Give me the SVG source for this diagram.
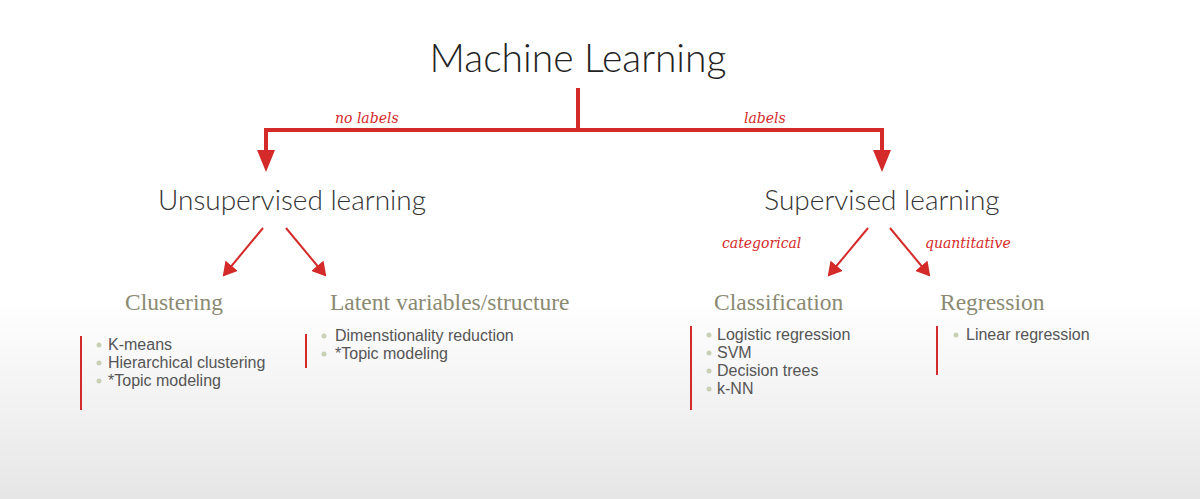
<svg xmlns="http://www.w3.org/2000/svg" width="1200" height="499" viewBox="0 0 1200 499">
<defs>
<linearGradient id="bg" x1="0" y1="0" x2="0" y2="1"><stop offset="0.6" stop-color="#ffffff"/><stop offset="1" stop-color="#e6e6e6"/></linearGradient>
<marker id="ah" markerWidth="8" markerHeight="8" refX="6" refY="4" orient="auto" markerUnits="strokeWidth"><path d="M0,0 L7,4 L0,8 Z" fill="#d42a2a"/></marker>
<style>
.red{stroke:#d42a2a;fill:none}
.hand{font-family:"DejaVu Serif",serif;font-style:italic;fill:#d42a2a;font-size:14px}
.h1{font-family:Lato,"Liberation Sans",sans-serif;font-weight:300;fill:#222;font-size:39px}
.h2{font-family:Lato,"Liberation Sans",sans-serif;font-weight:300;fill:#333;font-size:28px}
.h3{font-family:"Liberation Serif",serif;fill:#8a8a72;font-size:23.5px}
.it{font-family:"Liberation Sans",sans-serif;fill:#555;font-size:16px}
.dot{fill:#c9d1b5}
.bar{stroke:#d42a2a;stroke-width:2}
</style>
</defs>
<rect width="1200" height="499" fill="url(#bg)"/>
<g id="connectors">
<path class="red" stroke-width="4" d="M578,88 V130 M266,130 H882 M266,128 V152 M882,128 V152"/>
<path d="M257,150 L275,150 L266,172 Z M873,150 L891,150 L882,172 Z" fill="#d42a2a"/>
<line class="red" stroke-width="2" x1="263" y1="228" x2="224" y2="275" marker-end="url(#ah)"/>
<line class="red" stroke-width="2" x1="286" y1="228" x2="325" y2="275" marker-end="url(#ah)"/>
<line class="red" stroke-width="2" x1="868" y1="228" x2="829" y2="275" marker-end="url(#ah)"/>
<line class="red" stroke-width="2" x1="890" y1="228" x2="929" y2="275" marker-end="url(#ah)"/>
<text class="hand" x="335" y="123">no labels</text>
<text class="hand" x="744" y="123">labels</text>
<text class="hand" x="722" y="248">categorical</text>
<text class="hand" x="925" y="248">quantitative</text>
</g>
<g id="ml"><text class="h1" x="578" y="72" text-anchor="middle">Machine Learning</text></g>
<g id="unsup"><text class="h2" x="292" y="210" text-anchor="middle">Unsupervised learning</text></g>
<g id="sup"><text class="h2" x="882" y="210" text-anchor="middle">Supervised learning</text></g>
<g id="clustering"><text class="h3" x="125" y="310">Clustering</text>
<line class="bar" x1="81" y1="336" x2="81" y2="410"/>
<circle class="dot" cx="99" cy="345" r="2.5"/><circle class="dot" cx="99" cy="363" r="2.5"/><circle class="dot" cx="99" cy="381" r="2.5"/>
<text class="it" x="108" y="350">K-means</text><text class="it" x="108" y="368">Hierarchical clustering</text><text class="it" x="108" y="386">*Topic modeling</text></g>
<g id="latent"><text class="h3" x="330" y="310">Latent variables/structure</text>
<line class="bar" x1="306" y1="334" x2="306" y2="368"/>
<circle class="dot" cx="324" cy="336" r="2.5"/><circle class="dot" cx="324" cy="354" r="2.5"/>
<text class="it" x="335" y="341">Dimenstionality reduction</text><text class="it" x="335" y="359">*Topic modeling</text></g>
<g id="classification"><text class="h3" x="714" y="310">Classification</text>
<line class="bar" x1="691" y1="326" x2="691" y2="410"/>
<circle class="dot" cx="709" cy="335" r="2.5"/><circle class="dot" cx="709" cy="353" r="2.5"/><circle class="dot" cx="709" cy="371" r="2.5"/><circle class="dot" cx="709" cy="389" r="2.5"/>
<text class="it" x="717" y="340">Logistic regression</text><text class="it" x="717" y="358">SVM</text><text class="it" x="717" y="376">Decision trees</text><text class="it" x="717" y="394">k-NN</text></g>
<g id="regression"><text class="h3" x="940" y="310">Regression</text>
<line class="bar" x1="937" y1="326" x2="937" y2="375"/>
<circle class="dot" cx="956" cy="335" r="2.5"/>
<text class="it" x="966" y="340">Linear regression</text></g>
</svg>
